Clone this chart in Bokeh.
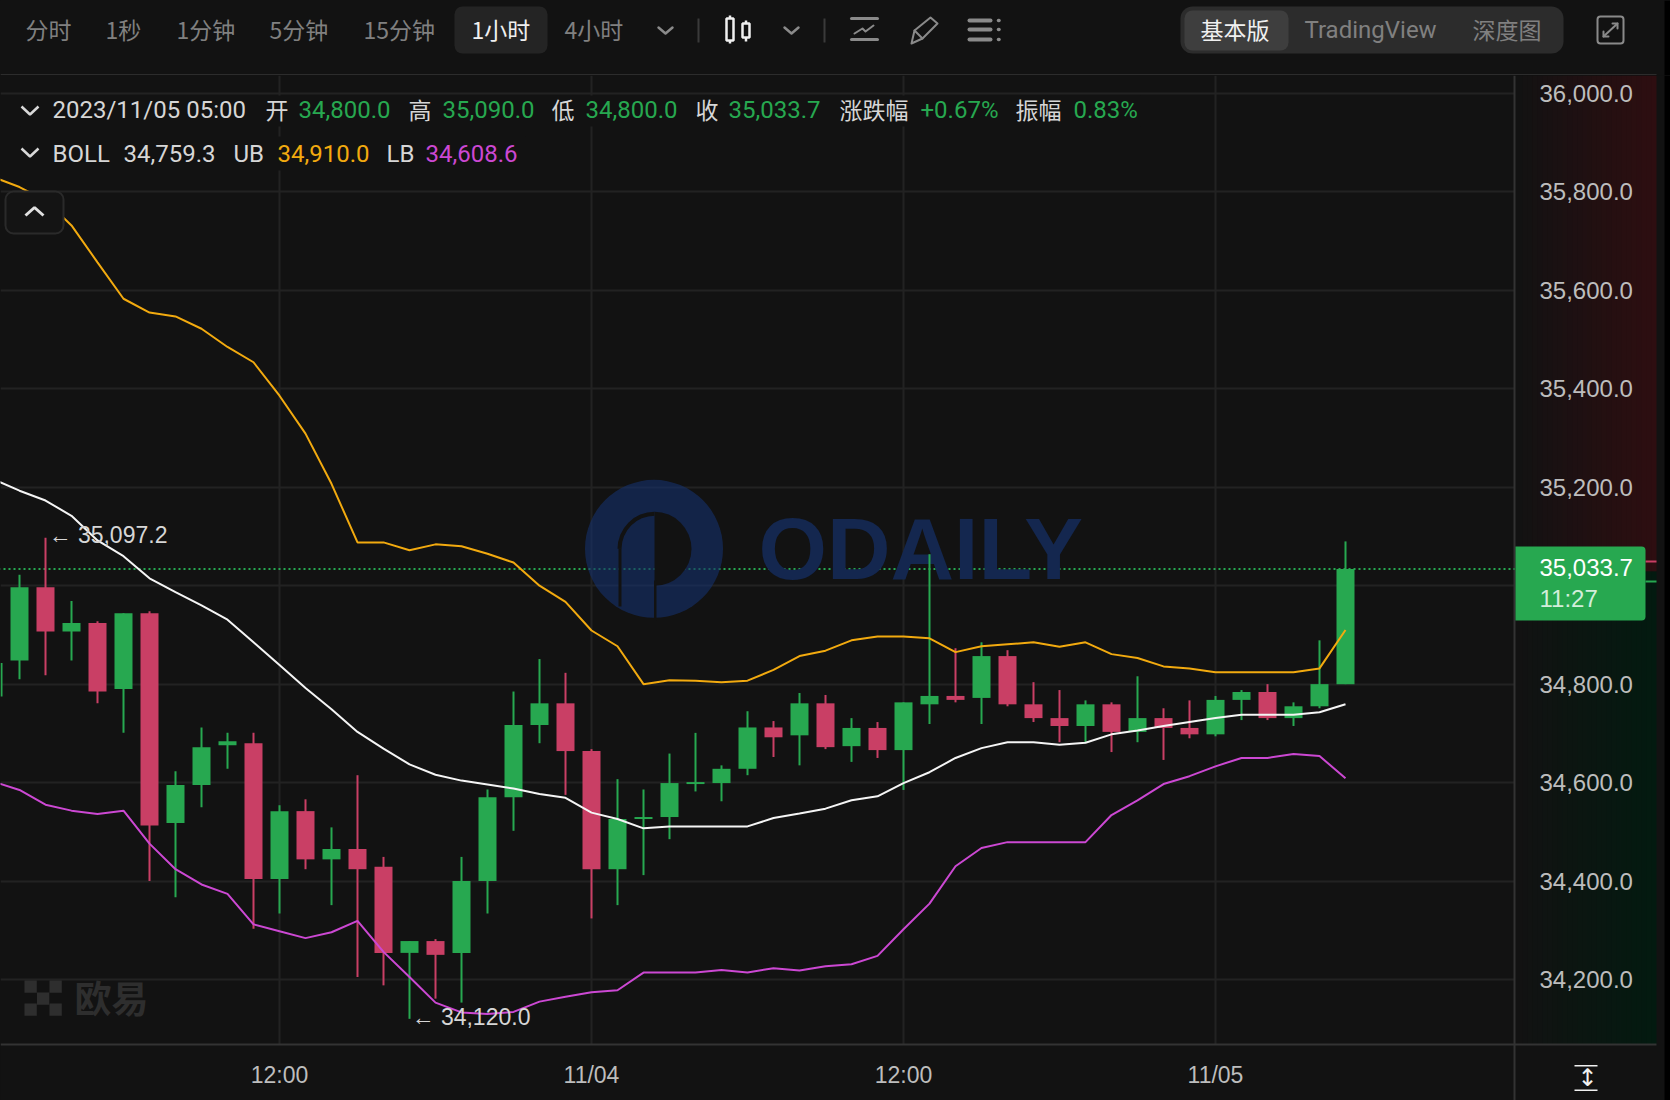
from math import pi
from bokeh.plotting import figure
from bokeh.layouts import column
from bokeh.models import (BoxAnnotation, FixedTicker, Grid, Label, LinearAxis, NumeralTickFormatter, Range1d)
from bokeh.core.properties import value
from bokeh.embed import file_html
from bokeh.resources import INLINE

hours = list(range(-23, 30))
opens = [34775,34848,34997,34907,34924,34790,34944,34518,34595,34676,34680,34404,34542,34444,34465,34429,34254,34278,34254,34400,34570,34717,34761,34664,34424,34526,34530,34597,34599,34628,34712,34696,34761,34674,34711,34666,34759,34776,34772,34857,34759,34731,34715,34759,34703,34731,34711,34698,34768,34784,34731,34755,34800]
highs = [34860,35022,35097.2,34969,34928,34944,34948,34623,34712,34701,34701,34554,34566,34509,34615,34449,34278,34282,34449,34586,34785,34851,34823,34668,34607,34586,34659,34701,34635,34745,34725,34782,34778,34731,34723,34763,35064,34873,34885,34869,34804,34788,34767,34763,34816,34751,34767,34776,34788,34800,34763,34889,35090]
lows = [34740,34810,34818,34848,34761,34701,34400,34367,34550,34628,34303,34334,34424,34351,34205,34188,34120,34161,34153,34334,34502,34680,34575,34324,34351,34412,34485,34582,34562,34615,34652,34635,34668,34642,34650,34585,34719,34763,34719,34755,34723,34682,34682,34662,34682,34646,34690,34694,34727,34727,34715,34751,34800]
closes = [34843,34997,34907,34924,34785,34944,34513,34595,34672,34684,34404,34542,34444,34465,34424,34254,34278,34250,34400,34570,34717,34761,34664,34424,34526,34530,34599,34601,34628,34712,34692,34761,34672,34711,34666,34763,34776,34768,34857,34759,34731,34715,34759,34703,34731,34711,34698,34768,34784,34731,34755,34800,35033.7]
boll_mid = [35216,35193,35173,35142,35092,35060,35015,34987,34960,34931,34885,34839,34792,34749,34703,34669,34637,34616,34604,34596,34588,34577,34569,34539,34526,34507,34511,34511,34511,34511,34528,34537,34547,34564,34572,34599,34621,34650,34670,34682,34682,34677,34681,34698,34706,34715,34723,34731,34738,34738,34738,34743,34759.3]
boll_ub = [35830,35810,35783,35732,35657,35583,35555,35547,35522,35485,35454,35386,35309,35207,35088,35088,35072,35084,35080,35065,35047,35000,34967,34909,34877,34800,34808,34807,34804,34807,34829,34857,34868,34889,34897,34897,34893,34865,34877,34881,34885,34876,34885,34861,34853,34836,34832,34824,34824,34824,34824,34832,34910]
boll_lb = [34602,34585,34555,34543,34536,34543,34476,34424,34393,34374,34312,34298,34284,34296,34319,34256,34205,34153,34133,34130,34134,34155,34165,34174,34178,34214,34214,34214,34219,34214,34223,34218,34227,34231,34248,34302,34354,34430,34467,34479,34479,34479,34479,34534,34564,34597,34613,34633,34650,34650,34658,34654,34608.6]

price_grid = [34200,34400,34600,34800,35000,35200,35400,35600,35800,36000]
price_labels = [34200,34400,34600,34800,35200,35400,35600,35800,36000]
time_ticks = [-12, 0, 12, 24]
time_labels = ["12:00", "11/04", "12:00", "11/05"]
last_price = 35033.7

tabs = ["分时","1秒","1分钟","5分钟","15分钟","4小时"]
head1 = [("2023/11/05 05:00",52,"w"),("开",265,"w"),("34,800.0",298,"g"),("高",408,"w"),("35,090.0",442,"g"),
         ("低",551,"w"),("34,800.0",585,"g"),("收",695,"w"),("35,033.7",728,"g"),("涨跌幅",839,"w"),
         ("+0.67%",920,"g"),("振幅",1015,"w"),("0.83%",1073,"g")]
head2 = [("BOLL",52,"w"),("34,759.3",123,"w"),("UB",233,"w"),("34,910.0",277,"o"),("LB",386,"w"),("34,608.6",425,"m")]

BG="#121212"; GREEN="#27A850"; RED="#C93F65"; ORANGE="#F2AA0F"; MAGENTA="#CC48D3"
CJK="Noto Sans CJK SC"; LAT="Liberation Sans"
W=1670; H=1100; TOP=75; AX_BOTTOM=1044; AX_X=1514

def X(px): return (px-591)/26
def Y(py): return 36000-(py-93)/0.4922

# ---------------- top bar ----------------
t = figure(width=W, height=TOP, x_range=Range1d(0,W), y_range=Range1d(TOP,0), output_backend="svg",
           toolbar_location=None, x_axis_location=None, y_axis_location=None, min_border=0,
           background_fill_color=BG, border_fill_color=BG, outline_line_color=None)
t.grid.visible=False
t.frame_align=False
def ttext(x,y,s,color,size=23,font=CJK,align="left",style="normal"):
    t.text([x],[y],text=[s],text_color=color,text_font=value(font),text_font_size=f"{size}px",
           text_baseline="middle",text_align=align,text_font_style=style)
def tline(xs,ys,color="#8a8a8a",w=2.5):
    t.line(xs,ys,line_color=color,line_width=w,line_cap="round",line_join="round")
t.quad(left=[454],right=[547],top=[6],bottom=[53],fill_color="#242424",line_color=None,border_radius=8)
t.quad(left=[1180],right=[1563],top=[6],bottom=[53],fill_color="#2C2C2C",line_color=None,border_radius=12)
t.quad(left=[1184],right=[1288],top=[10],bottom=[50],fill_color="#3E3E3E",line_color=None,border_radius=8)
t.quad(left=[1664],right=[1670],top=[0],bottom=[TOP],fill_color="#000000",line_color=None)
for s,x in zip(tabs,[25,105,176,269,363,564]):
    ttext(x,28,s,"#808080")
ttext(471,28,"1小时","#F0F0F0")
ttext(1200,28,"基本版","#F0F0F0")
ttext(1304,29.5,"TradingView","#808080",font="Roboto",size=24)
ttext(1472,28,"深度图","#808080")
tline([658,665,672],[27,33,27]); tline([784,791,798],[27,33,27])
t.segment([698,824],[18,18],[698,824],[42,42],line_color="#3A3A3A",line_width=2)
# candle icon
t.quad(left=[726,742],right=[733,749],top=[18,23],bottom=[40,37],fill_color=None,line_color="#F0F0F0",line_width=2.5)
t.segment([729.5,729.5,745.5,745.5],[15,40,20,37],[729.5,729.5,745.5,745.5],[18,43,23,41],line_color="#F0F0F0",line_width=2.5)
# indicators, pencil, menu, expand
tline([851,877],[18,18],w=3); tline([851,877],[39,39],w=3)
tline([854,862,865,873],[33,28,31,25],w=2)
tline([911,914,930,937,922,911],[43,30,17,23,38,43],w=2); tline([914,922],[30,38],w=2)
for yy in (20,29,39):
    tline([969,990],[yy,yy],w=4); tline([998,998.5],[yy,yy],w=3.5)
t.quad(left=[1597],right=[1623],top=[16],bottom=[43],fill_color=None,line_color="#8a8a8a",line_width=2,border_radius=3)
tline([1603,1617],[36,23],w=2); tline([1612,1617,1617],[23,23,28],w=2); tline([1603,1603,1608],[31,36,36],w=2)
t.segment([0],[TOP-0.5],[1656],[TOP-0.5],line_color="#2C2C2C",line_width=2)

# ---------------- chart: the frame fills the whole figure, the axes sit at fixed locations ----------------
p = figure(width=W, height=H-TOP, x_range=Range1d(X(0),X(W)), y_range=Range1d(Y(H),Y(TOP)),
           output_backend="svg", toolbar_location=None, x_axis_location=None, y_axis_location=None,
           min_border=0, background_fill_color=BG, border_fill_color=BG, outline_line_color=None)
p.frame_align=False
p.center=[]
ya=LinearAxis(fixed_location=X(AX_X), ticker=FixedTicker(ticks=price_labels), formatter=NumeralTickFormatter(format="0,0.0"))
xa=LinearAxis(fixed_location=Y(AX_BOTTOM), ticker=FixedTicker(ticks=time_ticks), major_label_overrides=dict(zip(time_ticks,time_labels)))
for a,st in ((ya,19),(xa,11)):
    a.major_tick_line_color=None; a.minor_tick_line_color=None; a.axis_line_color=None
    a.major_label_text_color="#BDBDBD"; a.major_label_text_font=LAT; a.major_label_text_font_size="24px"
    a.major_label_standoff=st
xa.major_label_text_font_size="23px"
p.add_layout(ya,"right"); p.add_layout(xa,"below")
p.add_layout(Grid(dimension=1,ticker=FixedTicker(ticks=price_grid),grid_line_color="#222222",grid_line_width=2))
p.add_layout(Grid(dimension=0,ticker=FixedTicker(ticks=time_ticks),grid_line_color="#222222",grid_line_width=2))

def quad(l,r,tp,b,color,**kw):
    p.quad(left=[X(l)],right=[X(r)],top=[Y(tp)],bottom=[Y(b)],fill_color=color,line_color=None,**kw)
def mix(c,f):
    return "#%02x%02x%02x"%tuple(round(18+(v-18)*f) for v in c)
# price scale and time scale background
quad(AX_X,W,TOP,H,BG)
quad(0,W,AX_BOTTOM,H,BG)
n=28
for i in range(n):
    x0=1517+139*i/n; x1=1517+139*(i+1)/n+0.6; f=(i+.5)/n
    quad(x0,min(x1,1656),TOP,571,mix((46,14,17),f))
    quad(x0,min(x1,1656),571,AX_BOTTOM,mix((3,26,16),f))
quad(1664,W,TOP,H,"#000000")
quad(1513,1515,TOP,H,"#333333")
quad(0,1656,AX_BOTTOM-1,AX_BOTTOM+1,"#333333")
quad(1645,1656,560,562,RED)
quad(1645,1656,580,582,GREEN)

# current price line, watermark
p.line([hours[0]-5,X(AX_X)],[last_price,last_price],line_color=GREEN,line_width=2,line_dash="2 3")
WM="#15306A"
p.scatter([X(653.5)],[Y(548.3)],size=138,marker="circle",fill_color=WM,fill_alpha=0.62,line_color=None)
p.wedge([X(654)],[Y(548.3)],radius=37,radius_units="screen",start_angle=-pi/2,end_angle=pi/2,fill_color=BG,line_color=None)
p.annular_wedge([X(654)],[Y(548.3)],inner_radius=33,outer_radius=37,inner_radius_units="screen",outer_radius_units="screen",
                start_angle=pi/2,end_angle=pi,fill_color=BG,line_color=None)
quad(618,621,548,606,BG)
quad(653.5,656,580,620,BG)
p.text([X(758)],[Y(548)],text=["ODAILY"],text_color="#14274F",text_font=value("Liberation Sans"),
       text_font_size="88px",text_font_style="bold",text_baseline="middle",text_align="left")
# OKX mark
cells=[(24,980),(49,980),(36.5,992),(24,1003),(49,1003)]
for a,b in cells:
    quad(a,a+12.3,b,b+12.3,"#2E2E2E")
p.text([X(74)],[Y(996)],text=["欧易"],text_color="#2E2E2E",text_font=value(CJK),text_font_size="37px",text_font_style="bold",
       text_baseline="middle",text_align="left")

# candles
up=[i for i in range(len(hours)) if closes[i]>=opens[i]]
dn=[i for i in range(len(hours)) if closes[i]<opens[i]]
for idx,col in ((up,GREEN),(dn,RED)):
    xs=[hours[i] for i in idx]
    p.segment(xs,[highs[i] for i in idx],xs,[lows[i] for i in idx],line_color=col,line_width=2)
    p.vbar(x=xs,width=18/26,top=[max(opens[i],closes[i]) for i in idx],bottom=[min(opens[i],closes[i]) for i in idx],
           fill_color=col,line_color=None)
# BOLL
p.line(hours,boll_ub,line_color=ORANGE,line_width=2)
p.line(hours,boll_mid,line_color="#F5F5F5",line_width=2)
p.line(hours,boll_lb,line_color=MAGENTA,line_width=2)

def lab(px,py,s,color,size=24,font="Roboto",style="normal"):
    p.add_layout(Label(x=X(px),y=Y(py),text=s,text_color=color,text_font=font,text_font_size=f"{size}px",
                       text_baseline="middle",text_align="left",text_font_style=style))
# legend rows
quad(20,1140,95,126,BG); quad(20,525,136,170,BG)
for yy in (106,148):
    p.line([X(21),X(29.5),X(38)],[Y(yy),Y(yy+8),Y(yy)],line_color="#D8D8D8",line_width=2.5)
colmap={"w":"#D6D6D6","g":GREEN,"o":ORANGE,"m":MAGENTA}
for s,x,c in head1:
    if any(ord(ch)>255 for ch in s):
        lab(x,108.5,s,colmap[c],size=23,font=CJK)
    else:
        lab(x,109,s,colmap[c])
for s,x,c in head2:
    lab(x,153,s,colmap[c])
# collapse button
p.quad(left=[X(5)],right=[X(63)],top=[Y(191)],bottom=[Y(233)],fill_color="#141414",line_color="#2A2A2A",line_width=2,border_radius=8)
p.line([X(25),X(34),X(43)],[Y(215),Y(207),Y(215)],line_color="#E0E0E0",line_width=3)
# extremes
lab(48,534,"← 35,097.2","#D6D6D6",size=23,font=LAT)
lab(411,1016,"← 34,120.0","#D6D6D6",size=23,font=LAT)
# price tag
p.add_layout(BoxAnnotation(left=X(1515),right=X(1645),top=Y(546),bottom=Y(620),fill_color=GREEN,fill_alpha=1,line_color=None,
                           border_radius=dict(top_left=0,top_right=4,bottom_right=4,bottom_left=0)))
lab(1539,567,"35,033.7","#FFFFFF",font=LAT)
lab(1539,598,"11:27","#D2EEDB",font=LAT)
# scale toggle
quad(1574,1597,1064.5,1066,"#F0F0F0")
quad(1574,1597,1089,1090.5,"#F0F0F0")
lab(1577,1077,"↕","#F0F0F0",font="DejaVu Sans")

layout=column(t,p,spacing=0)
page="{% block postamble %}<style>html,body{margin:0;padding:0;background:#121212}</style>{% endblock %}"
open("out.html","w").write(file_html(layout,INLINE,"BTC chart",template=page))
